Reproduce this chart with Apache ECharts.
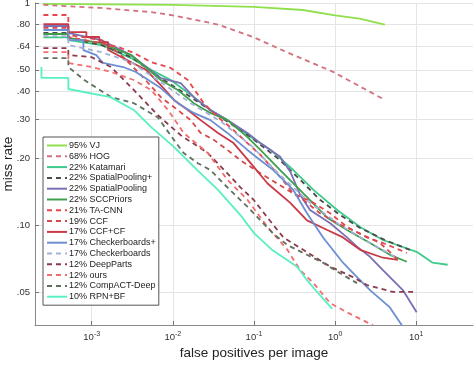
<!DOCTYPE html>
<html><head><meta charset="utf-8">
<script src="https://cdn.jsdelivr.net/npm/echarts@6/dist/echarts.min.js"></script>
<style>html,body{margin:0;padding:0;background:#fff}#c{width:474px;height:365px}</style>
</head><body><div id="c"></div>
<script>
// ---- data (fppi, miss rate) ----
const seriesNames = ['95% VJ','68% HOG','22% Katamari','22% SpatialPooling+','22% SpatialPooling','22% SCCPriors','21% TA-CNN','19% CCF','17% CCF+CF','17% Checkerboards+','17% Checkerboards','12% DeepParts','12% ours','12% CompACT-Deep','10% RPN+BF'];
const yTickValues = [0.05,0.10,0.20,0.30,0.40,0.50,0.64,0.80,1];
const yTickLabels = ['.05','.10','.20','.30','.40','.50','.64','.80','1'];
const xTickValues = [1e-3,1e-2,1e-1,1,10];

const VJ = [[2.5e-4,0.99],[1e-2,0.98],[0.1,0.96],[0.4,0.93],[1,0.88],[2,0.85],[4.1,0.80]];
const HOG = [[2.54e-4,0.98],[1.31e-3,0.95],[5.4e-3,0.91],[1e-2,0.88],[3.6e-2,0.80],[0.1,0.70],[0.23,0.61],[0.94,0.49],[3.88,0.37]];
const Katamari = [[2.54e-4,0.70],[5.15e-4,0.70],[5.15e-4,0.68],[1.31e-3,0.647],[3.05e-3,0.565],[5.4e-3,0.50],[9.4e-3,0.45],[1.81e-2,0.377],[2.9e-2,0.33],[4.7e-2,0.297],[9.1e-2,0.249],[0.16,0.218],[0.305,0.177],[0.54,0.144],[1.06,0.117],[2.03,0.098],[3.88,0.0857],[10.1,0.0758],[15.9,0.0677],[24.4,0.0663]];
const SpatialPoolingPlus = [[2.54e-4,0.733],[5.15e-4,0.733],[5.15e-4,0.696],[1.31e-3,0.647],[3.05e-3,0.571],[7.1e-3,0.459],[1.66e-2,0.377],[3.9e-2,0.306],[9.1e-2,0.249],[0.21,0.196],[0.37,0.16],[0.65,0.13],[1.15,0.111],[2.03,0.0971],[4.1,0.0857],[8.32,0.0774]];
const SpatialPooling = [[2.54e-4,0.788],[5.15e-4,0.788],[5.15e-4,0.733],[1.31e-3,0.681],[3.05e-3,0.583],[7.1e-3,0.459],[1.25e-2,0.436],[1.81e-2,0.377],[2.9e-2,0.33],[4.7e-2,0.297],[8.3e-2,0.26],[0.12,0.234],[0.21,0.203],[0.28,0.174],[0.37,0.137],[0.49,0.117],[0.87,0.102],[1.40,0.088],[1.86,0.080],[2.69,0.072],[3.88,0.0627],[6.83,0.051],[10.1,0.0405]];
const SCCPriors = [[2.54e-4,0.725],[5.15e-4,0.725],[5.15e-4,0.696],[1.31e-3,0.66],[3.05e-3,0.583],[7.1e-3,0.45],[1.15e-2,0.406],[1.81e-2,0.354],[2.9e-2,0.32],[4.7e-2,0.297],[8.3e-2,0.249],[0.12,0.218],[0.21,0.177],[0.405,0.139],[0.80,0.108],[1.40,0.095],[2.69,0.0831],[4.73,0.0735],[7.64,0.0684]];
const TACNN = [[2.54e-4,0.883],[5.15e-4,0.883],[5.15e-4,0.703],[1.31e-3,0.66],[2.11e-3,0.634],[3.3e-3,0.596],[5.4e-3,0.542],[9.4e-3,0.51],[1.53e-2,0.45],[2.4e-2,0.354],[3.6e-2,0.306],[5.1e-2,0.276],[8.3e-2,0.234],[0.12,0.207],[0.21,0.165],[0.305,0.139],[0.54,0.126],[0.87,0.113],[1.40,0.0981],[2.47,0.088],[3.88,0.0831],[7.64,0.075]];
const CCF = [[2.54e-4,0.772],[5.15e-4,0.772],[5.15e-4,0.718],[1.31e-3,0.681],[2.3e-3,0.583],[4.05e-3,0.474],[7.1e-3,0.377],[1.03e-2,0.34],[1.66e-2,0.297],[2.2e-2,0.26],[3.2e-2,0.242],[4.7e-2,0.218],[6.8e-2,0.196],[0.12,0.171],[0.23,0.148],[0.405,0.13],[0.65,0.113],[1.06,0.102],[2.03,0.0915],[3.57,0.0831],[5.15,0.0735],[6.28,0.0677]];
const CCFCF = [[2.54e-4,0.804],[5.15e-4,0.804],[5.15e-4,0.740],[8.6e-4,0.740],[8.6e-4,0.703],[1.24e-3,0.703],[1.24e-3,0.667],[1.59e-3,0.667],[1.59e-3,0.614],[2.44e-3,0.565],[4.7e-3,0.499],[7.1e-3,0.427],[1.03e-2,0.366],[1.53e-2,0.33],[2.2e-2,0.297],[3.6e-2,0.26],[5.6e-2,0.234],[9.1e-2,0.19],[0.147,0.154],[0.28,0.126],[0.45,0.105],[0.80,0.095],[1.25,0.088],[2.03,0.0774],[3.88,0.0713],[5.93,0.0698]];
const CheckerboardsPlus = [[2.54e-4,0.756],[5.15e-4,0.756],[5.15e-4,0.681],[7.9e-4,0.681],[7.9e-4,0.614],[1.14e-3,0.583],[1.38e-3,0.537],[2.44e-3,0.515],[3.5e-3,0.489],[7.1e-3,0.414],[1.15e-2,0.354],[1.81e-2,0.32],[2.9e-2,0.297],[4.7e-2,0.26],[8.3e-2,0.218],[0.12,0.196],[0.173,0.177],[0.305,0.144],[0.45,0.113],[0.71,0.088],[1.25,0.0677],[1.86,0.0583],[2.69,0.051],[4.73,0.0426],[6.64,0.0354]];
const Checkerboards = [[2.54e-4,0.71],[5.15e-4,0.71],[5.15e-4,0.647],[1.31e-3,0.601],[3.05e-3,0.542],[7.1e-3,0.44],[1.66e-2,0.354],[3.9e-2,0.293],[9.1e-2,0.229],[0.21,0.168],[0.49,0.126],[1.15,0.1],[2.69,0.0831],[5.45,0.072]];
const DeepParts = [[2.54e-4,0.627],[5.15e-4,0.627],[5.15e-4,0.583],[9.9e-4,0.571],[1.73e-3,0.515],[3.3e-3,0.406],[6.5e-3,0.313],[1.25e-2,0.254],[2.7e-2,0.211],[4.7e-2,0.171],[6.8e-2,0.148],[9.9e-2,0.13],[0.147,0.108],[0.23,0.088],[0.405,0.0774],[0.87,0.065],[1.66,0.0583],[2.47,0.0537],[5.15,0.05],[10.1,0.05]];
const Ours = [[2.54e-4,0.601],[5.15e-4,0.601],[5.15e-4,0.537],[9.9e-4,0.515],[1.73e-3,0.489],[3.3e-3,0.45],[5.4e-3,0.406],[8.7e-3,0.33],[1.36e-2,0.26],[2.7e-2,0.211],[4.7e-2,0.16],[8.3e-2,0.13],[0.147,0.0981],[0.258,0.0774],[0.37,0.0627],[0.54,0.0548],[0.87,0.0445],[1.40,0.0405],[2.93,0.0354]];
const CompACTDeep = [[2.54e-4,0.565],[5.15e-4,0.565],[5.15e-4,0.515],[8.1e-4,0.45],[1.73e-3,0.377],[3.3e-3,0.354],[6.5e-3,0.306],[1.03e-2,0.242],[1.36e-2,0.211],[2.03e-2,0.19],[2.9e-2,0.177],[4.2e-2,0.154],[5.6e-2,0.139],[8.3e-2,0.121],[0.12,0.105],[0.173,0.0915],[0.258,0.0813],[0.45,0.0735],[0.71,0.0677],[1.15,0.0607],[1.86,0.0548]];
const RPNBF = [[2.4e-4,0.515],[2.4e-4,0.46],[5.15e-4,0.46],[5.15e-4,0.41],[1.7e-3,0.377],[3.3e-3,0.33],[5.4e-3,0.276],[1.03e-2,0.225],[2.0e-2,0.177],[3.6e-2,0.144],[6.8e-2,0.111],[0.10,0.092],[0.17,0.077],[0.34,0.065],[0.45,0.0565],[0.60,0.05],[0.92,0.042]];

const seriesData = [VJ,HOG,Katamari,SpatialPoolingPlus,SpatialPooling,SCCPriors,TACNN,CCF,CCFCF,CheckerboardsPlus,Checkerboards,DeepParts,Ours,CompACTDeep,RPNBF];

// ---- styles ----
const styles = [
  {c:'#8fe04c',d:false},{c:'#d1707f',d:true},{c:'#3fca8c',d:false},{c:'#4b4b4b',d:true},
  {c:'#7b6fb6',d:false},{c:'#3ea04c',d:false},{c:'#e8444e',d:true},{c:'#d44a4c',d:true},
  {c:'#c73a46',d:false},{c:'#6b8fd2',d:false},{c:'#a2b1d9',d:true},{c:'#8a3c4e',d:true},
  {c:'#f26d6d',d:true},{c:'#5f715f',d:true},{c:'#58f0c2',d:false}
];
const FONT = 'Liberation Sans, Arial, Helvetica, sans-serif';

const series = seriesNames.map((n,i)=>({
  name:n, type:'line', data:seriesData[i], symbol:'none', showSymbol:false,
  lineStyle:{color:styles[i].c, width:1.8, type: styles[i].d ? [5,4] : 'solid'},
  itemStyle:{color:styles[i].c}, animation:false, z:2+i
}));

const chart = echarts.init(document.getElementById('c'), null, {renderer:'canvas'});
chart.setOption({
  animation:false,
  backgroundColor:'#fff',
  grid:{left:35,right:1,top:3,bottom:40,containLabel:false,outerBoundsMode:'none'},
  xAxis:{
    type:'log', logBase:10, min:2e-4, max:50,
    name:'false positives per image', nameLocation:'middle', nameGap:21, nameMoveOverlap:false,
    nameTextStyle:{fontFamily:FONT,fontSize:13.5,color:'#222'},
    axisLine:{show:true,lineStyle:{color:'#8a8a8a',width:1}},
    axisTick:{show:true,inside:true,length:4,lineStyle:{color:'#777'},customValues:xTickValues},
    axisLabel:{customValues:xTickValues,margin:6,
      formatter:v=>'{b|10}{s|'+Math.round(Math.log10(v))+'}',
      rich:{b:{fontFamily:FONT,fontSize:9.5,color:'#333'},s:{fontFamily:FONT,fontSize:7,color:'#333',verticalAlign:'bottom',padding:[0,0,6,0]}}},
    splitLine:{show:true,lineStyle:{color:'#e4e4e4',width:1}},
    minorTick:{show:false}
  },
  yAxis:{
    type:'log', logBase:10, min:0.0355, max:1,
    name:'miss rate', nameLocation:'middle', nameGap:20, nameRotate:90, nameMoveOverlap:false,
    nameTextStyle:{fontFamily:FONT,fontSize:13.5,color:'#222'},
    axisLine:{show:true,lineStyle:{color:'#8a8a8a',width:1}},
    axisTick:{show:true,inside:true,length:4,lineStyle:{color:'#777'},customValues:yTickValues},
    axisLabel:{customValues:yTickValues,margin:5,fontFamily:FONT,fontSize:9.5,color:'#333',
      formatter:v=>{const k=yTickValues.findIndex(t=>Math.abs(t-v)<1e-6);return k>=0?yTickLabels[k]:'';}},
    splitLine:{show:true,lineStyle:{color:'#e4e4e4',width:1}}
  },
  legend:{
    orient:'vertical', left:43, top:137, data:seriesNames,
    backgroundColor:'#fff', borderColor:'#555', borderWidth:1,
    padding:[4,3,4,3], itemWidth:20, itemHeight:10, itemGap:1.8,
    itemStyle:{opacity:0},
    textStyle:{fontFamily:FONT,fontSize:9,color:'#222',padding:[0,0,0,-3]},
    selectedMode:false, z:20
  },
  series:series
});
</script></body></html>
